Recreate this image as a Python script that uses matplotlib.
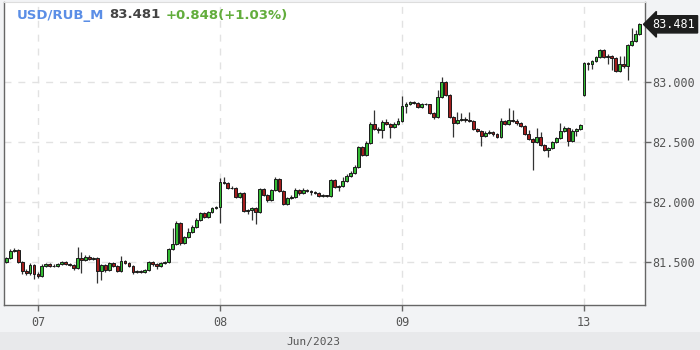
# USD/RUB_M candlestick chart

import numpy as np
import matplotlib
matplotlib.use("Agg")
import matplotlib.pyplot as plt
from matplotlib.patches import Rectangle
from matplotlib.transforms import blended_transform_factory

# Candles (one per index)
opens = [
    81.500, 81.533, 81.592, 81.600, 81.500, 81.425, 81.408, 81.475,
    81.400, 81.383, 81.467, 81.483, 81.467, 81.470, 81.483, 81.500, 81.483, 81.475,
    81.450, 81.533, 81.517, 81.542, 81.525, 81.533, 81.425, 81.475, 81.433, 81.492,
    81.467, 81.425, 81.508, 81.492, 81.467, 81.417, 81.425, 81.417, 81.433, 81.500,
    81.483, 81.467, 81.492, 81.500, 81.608, 81.650, 81.825, 81.658, 81.708, 81.750,
    81.792, 81.850, 81.908, 81.875, 81.917, 81.950,
    81.958, 82.167, 82.158, 82.117, 82.120, 82.042, 82.075, 81.925, 81.933, 81.950,
    81.917, 82.108, 82.058, 82.017, 82.100, 82.192, 82.092, 81.983, 82.033, 82.042,
    82.100, 82.075, 82.100, 82.095, 82.083, 82.075, 82.050, 82.055, 82.050, 82.183,
    82.125, 82.133, 82.175, 82.217, 82.242, 82.292, 82.458, 82.392, 82.492, 82.650,
    82.608, 82.600, 82.667, 82.650, 82.625, 82.650,
    82.675, 82.800, 82.817, 82.833, 82.825, 82.792, 82.817, 82.815, 82.742, 82.708,
    82.875, 83.000, 82.892, 82.708, 82.658, 82.683, 82.692, 82.683, 82.675, 82.608,
    82.592, 82.550, 82.575, 82.583, 82.567, 82.542, 82.675, 82.650, 82.683, 82.675,
    82.658, 82.633, 82.567, 82.525, 82.500, 82.542, 82.475, 82.433, 82.450, 82.500,
    82.533, 82.592, 82.617, 82.508, 82.592, 82.608,
    82.892, 83.158, 83.150, 83.175, 83.208, 83.267, 83.208, 83.217, 83.200, 83.092,
    83.150, 83.133, 83.308, 83.342, 83.400,
]
closes = [
    81.533, 81.592, 81.600, 81.500, 81.425, 81.408, 81.475, 81.400,
    81.383, 81.467, 81.483, 81.467, 81.470, 81.483, 81.500, 81.483, 81.475, 81.450,
    81.533, 81.517, 81.542, 81.525, 81.533, 81.425, 81.475, 81.433, 81.492, 81.467,
    81.425, 81.508, 81.492, 81.467, 81.417, 81.425, 81.417, 81.433, 81.500, 81.483,
    81.467, 81.492, 81.500, 81.608, 81.650, 81.825, 81.658, 81.708, 81.750, 81.792,
    81.850, 81.908, 81.875, 81.917, 81.950, 81.958,
    82.167, 82.158, 82.117, 82.120, 82.042, 82.075, 81.925, 81.933, 81.950, 81.917,
    82.108, 82.058, 82.017, 82.100, 82.192, 82.092, 81.983, 82.033, 82.042, 82.100,
    82.075, 82.100, 82.095, 82.083, 82.075, 82.050, 82.055, 82.050, 82.183, 82.125,
    82.133, 82.175, 82.217, 82.242, 82.292, 82.458, 82.392, 82.492, 82.650, 82.608,
    82.600, 82.667, 82.650, 82.625, 82.650, 82.675,
    82.800, 82.817, 82.833, 82.825, 82.792, 82.817, 82.815, 82.742, 82.708, 82.875,
    83.000, 82.892, 82.708, 82.658, 82.683, 82.692, 82.683, 82.675, 82.608, 82.592,
    82.550, 82.575, 82.583, 82.567, 82.542, 82.675, 82.650, 82.683, 82.675, 82.658,
    82.633, 82.567, 82.525, 82.500, 82.542, 82.475, 82.433, 82.450, 82.500, 82.533,
    82.592, 82.617, 82.508, 82.592, 82.608, 82.642,
    83.158, 83.150, 83.175, 83.208, 83.267, 83.208, 83.217, 83.200, 83.092, 83.150,
    83.133, 83.308, 83.342, 83.400, 83.481,
]
highs = [
    81.545, 81.610, 81.617, 81.605, 81.510, 81.440, 81.490, 81.485,
    81.420, 81.480, 81.495, 81.490, 81.480, 81.495, 81.512, 81.508, 81.495, 81.485,
    81.625, 81.583, 81.560, 81.555, 81.545, 81.540, 81.485, 81.485, 81.500, 81.500,
    81.475, 81.550, 81.520, 81.500, 81.475, 81.435, 81.432, 81.445, 81.512, 81.508,
    81.490, 81.500, 81.510, 81.620, 81.783, 81.840, 81.835, 81.720, 81.780, 81.810,
    81.865, 81.920, 81.915, 81.928, 81.960, 81.970,
    82.200, 82.208, 82.165, 82.130, 82.125, 82.085, 82.082, 81.945, 81.962, 81.958,
    82.120, 82.115, 82.065, 82.110, 82.208, 82.200, 82.100, 82.045, 82.055, 82.115,
    82.108, 82.115, 82.110, 82.100, 82.092, 82.082, 82.065, 82.062, 82.195, 82.190,
    82.145, 82.210, 82.230, 82.255, 82.305, 82.470, 82.465, 82.505, 82.665, 82.767,
    82.625, 82.680, 82.690, 82.660, 82.665, 82.700,
    82.883, 82.830, 82.845, 82.840, 82.835, 82.828, 82.825, 82.820, 82.750, 82.933,
    83.042, 83.005, 82.900, 82.715, 82.750, 82.740, 82.705, 82.750, 82.685, 82.620,
    82.600, 82.590, 82.600, 82.595, 82.578, 82.700, 82.685, 82.783, 82.767, 82.690,
    82.668, 82.642, 82.600, 82.535, 82.617, 82.583, 82.485, 82.462, 82.510, 82.545,
    82.658, 82.630, 82.625, 82.605, 82.620, 82.650,
    83.167, 83.165, 83.185, 83.220, 83.275, 83.272, 83.230, 83.225, 83.210, 83.217,
    83.217, 83.320, 83.450, 83.430, 83.490,
]
lows = [
    81.490, 81.525, 81.585, 81.490, 81.400, 81.395, 81.390, 81.360,
    81.370, 81.375, 81.458, 81.455, 81.455, 81.462, 81.475, 81.475, 81.465, 81.430,
    81.440, 81.408, 81.505, 81.515, 81.515, 81.325, 81.350, 81.420, 81.425, 81.455,
    81.415, 81.418, 81.480, 81.455, 81.400, 81.408, 81.405, 81.410, 81.425, 81.470,
    81.440, 81.455, 81.485, 81.495, 81.600, 81.640, 81.640, 81.650, 81.700, 81.740,
    81.785, 81.845, 81.865, 81.868, 81.910, 81.940,
    81.825, 82.150, 82.108, 82.105, 82.030, 82.035, 81.915, 81.900, 81.850, 81.817,
    81.910, 82.050, 82.000, 82.010, 82.095, 82.085, 81.975, 81.975, 82.025, 82.035,
    82.060, 82.068, 82.080, 82.060, 82.065, 82.040, 82.042, 82.042, 82.045, 82.118,
    82.090, 82.125, 82.168, 82.210, 82.235, 82.285, 82.385, 82.385, 82.485, 82.600,
    82.575, 82.533, 82.640, 82.533, 82.615, 82.640,
    82.668, 82.740, 82.810, 82.815, 82.780, 82.785, 82.808, 82.735, 82.690, 82.700,
    82.868, 82.885, 82.700, 82.540, 82.650, 82.675, 82.670, 82.665, 82.600, 82.580,
    82.467, 82.540, 82.565, 82.550, 82.530, 82.535, 82.640, 82.642, 82.665, 82.645,
    82.625, 82.555, 82.515, 82.267, 82.492, 82.465, 82.425, 82.375, 82.440, 82.490,
    82.525, 82.585, 82.467, 82.500, 82.550, 82.600,
    82.885, 83.100, 83.110, 83.165, 83.200, 83.200, 83.150, 83.100, 83.085, 83.085,
    83.120, 83.020, 83.300, 83.335, 83.395,
]

# x-axis day labels (candle index of first candle of the day)
day_labels = ["07", "08", "09", "13"]
day_index = [8, 54, 100, 146]
month_label = "Jun/2023"

y_ticks = [81.5, 82.0, 82.5, 83.0]
y_tick_labels = ["81.500", "82.000", "82.500", "83.000"]

symbol = "USD/RUB_M"
last_price = "83.481"
change_text = "+0.848(+1.03%)"

# Colours
bg = "#f2f3f5"
band = "#e8e9eb"
up_col = "#33bb33"
down_col = "#a31d1d"
edge = "#1a1a1a"
grid_col = "#e2e2e2"
text_col = "#555555"

o = np.array(opens)
c = np.array(closes)
h = np.array(highs)
l = np.array(lows)
x = np.arange(len(c))

fig = plt.figure(figsize=(7, 3.5), dpi=100, facecolor=bg)
ax = fig.add_axes([4 / 700, 1 - 305 / 350, 641 / 700, 303 / 350])
ax.set_facecolor("white")

# bottom band with month label
fig.patches.append(Rectangle((0, 0), 1, 18 / 350, transform=fig.transFigure,
                             facecolor=band, edgecolor="none", zorder=0))
fig.text(313 / 700, 8 / 350, month_label, ha="center", va="center",
         fontsize=8, color=text_col, family="DejaVu Sans Mono")

# grid
for yt in y_ticks:
    ax.axhline(yt, color=grid_col, lw=1, ls=(0, (5, 5)), zorder=0)
for xt in day_index:
    ax.axvline(xt, color=grid_col, lw=1, ls=(0, (5, 5)), zorder=0)

# candles
up = c >= o
colors = np.where(up, up_col, down_col)
ax.vlines(x, l, h, color="#333333", lw=0.9, zorder=2)
bottoms = np.minimum(o, c)
heights = np.maximum(np.abs(c - o), 0.004)
ax.bar(x, heights, bottom=bottoms, width=0.72, color=colors,
       edgecolor=edge, linewidth=0.7, zorder=3)

ax.set_xlim(-0.58, 161.4)
ax.set_ylim(81.142, 83.667)

# axes styling
for side in ["left", "bottom", "right"]:
    ax.spines[side].set_color("#666666")
    ax.spines[side].set_linewidth(1)
ax.spines["top"].set_color("#dddddd")

ax.yaxis.tick_right()
ax.set_yticks(y_ticks)
ax.set_yticklabels(y_tick_labels)
ax.set_xticks(day_index)
ax.set_xticklabels(day_labels)
ax.tick_params(axis="y", length=4, width=1, color="#666666", pad=1,
               labelsize=8.5, labelcolor=text_col)
ax.tick_params(axis="x", length=4, width=1, color="#666666", pad=4,
               labelsize=8.5, labelcolor=text_col)
for lab in ax.get_xticklabels() + ax.get_yticklabels():
    lab.set_family("DejaVu Sans Mono")

# last price tag
trans = blended_transform_factory(ax.transAxes, ax.transData)
ax.text(1.012, float(c[-1]), last_price, transform=trans, ha="left", va="center",
        fontsize=8.5, color="white", family="DejaVu Sans Mono", clip_on=False,
        bbox=dict(boxstyle="larrow,pad=0.18", fc="#1e1e1e", ec="#1e1e1e"))

# header
fig.canvas.draw()
r = fig.canvas.get_renderer()
hx, hy = 17 / 700, 1 - 15 / 350
t1 = fig.text(hx, hy, symbol, color="#5b8ee6", fontsize=9.5, weight="bold",
              va="center", ha="left")
ext = t1.get_window_extent(r)
t2 = fig.text((ext.x1 + 5) / 700, hy, last_price, color="#444444", fontsize=9.5,
              weight="bold", va="center", ha="left")
ext = t2.get_window_extent(r)
fig.text((ext.x1 + 5) / 700, hy, change_text, color="#62ad3c", fontsize=9.5,
         weight="bold", va="center", ha="left")

fig.savefig("out.png", dpi=100, facecolor=bg)
